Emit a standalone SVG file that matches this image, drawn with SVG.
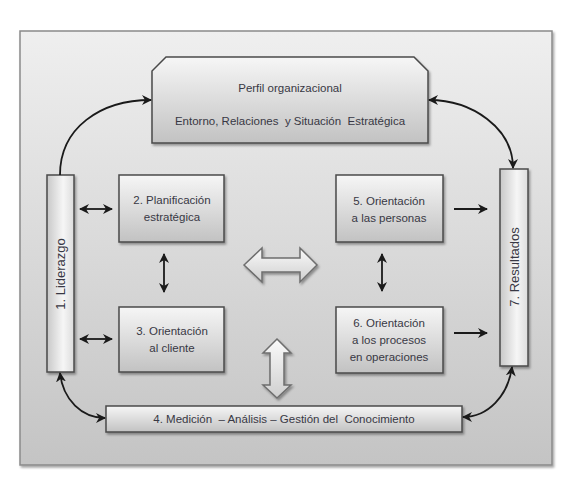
<svg xmlns="http://www.w3.org/2000/svg" width="580" height="480" viewBox="0 0 580 480">
<defs>
<linearGradient id="bg" x1="0" y1="0" x2="0" y2="1"><stop offset="0" stop-color="#efefef"/><stop offset="1" stop-color="#c4c4c4"/></linearGradient>
<linearGradient id="box" x1="0" y1="0" x2="0" y2="1"><stop offset="0" stop-color="#f6f6f6"/><stop offset="1" stop-color="#c2c2c2"/></linearGradient>
<linearGradient id="vbar" x1="0" y1="0" x2="1" y2="0"><stop offset="0" stop-color="#c8c8c8"/><stop offset="0.6" stop-color="#f6f6f6"/><stop offset="1" stop-color="#dcdcdc"/></linearGradient>
<linearGradient id="hol" x1="0" y1="0" x2="0" y2="1"><stop offset="0" stop-color="#fafafa"/><stop offset="1" stop-color="#cfcfcf"/></linearGradient>
<filter id="sh" x="-10%" y="-10%" width="130%" height="130%"><feDropShadow dx="1.5" dy="2" stdDeviation="1.2" flood-color="#000" flood-opacity="0.35"/></filter>
<marker id="ah" viewBox="0 0 10 10" refX="9" refY="5" markerWidth="10" markerHeight="10" markerUnits="userSpaceOnUse" orient="auto-start-reverse"><path d="M0,0 L10,5 L0,10 L3,5 Z" fill="#1a1a1a"/></marker>
</defs>
<style>
.bx{fill:url(#box);stroke:#4a4a4a;stroke-width:1.5;filter:url(#sh)}
.vb{fill:url(#vbar);stroke:#4a4a4a;stroke-width:1.5;filter:url(#sh)}
.t{font-family:"Liberation Sans",Arial,sans-serif;font-size:11.5px;fill:#383844;text-anchor:middle}
.c{fill:none;stroke:#1a1a1a;stroke-width:1.8}
.hol{fill:url(#hol);stroke:#6e6e6e;stroke-width:1.5;filter:url(#sh)}
</style>
<rect width="580" height="480" fill="#fff"/>
<rect id="frame" x="20" y="31" width="532" height="434" fill="url(#bg)" stroke="#8a8a8a" stroke-width="1.5" filter="url(#sh)"/>
<g id="perfil">
<path class="bx" d="M166,57 L414,57 L428,71 L428,143 L152,143 L152,71 Z"/>
<text class="t" x="290" y="92">Perfil organizacional</text>
<text class="t" x="290" y="125" xml:space="preserve">Entorno, Relaciones  y Situación  Estratégica</text>
</g>
<g id="liderazgo">
<rect class="vb" x="47" y="175" width="27" height="197"/>
<text class="t" transform="translate(65,274) rotate(-90)" style="font-size:13px">1. Liderazgo</text>
</g>
<g id="resultados">
<rect class="vb" x="500" y="169" width="28" height="197"/>
<text class="t" transform="translate(519,267) rotate(-90)" style="font-size:13px">7. Resultados</text>
</g>
<g id="planificacion">
<rect class="bx" x="119" y="175" width="105" height="67"/>
<text class="t" x="172" y="204">2. Planificación</text>
<text class="t" x="172" y="221">estratégica</text>
</g>
<g id="personas">
<rect class="bx" x="336" y="175" width="107" height="67"/>
<text class="t" x="389" y="205">5. Orientación</text>
<text class="t" x="389" y="222">a las personas</text>
</g>
<g id="cliente">
<rect class="bx" x="119" y="307" width="105" height="65"/>
<text class="t" x="172" y="335">3. Orientación</text>
<text class="t" x="172" y="352">al cliente</text>
</g>
<g id="procesos">
<rect class="bx" x="336" y="307" width="107" height="66"/>
<text class="t" x="389" y="327">6. Orientación</text>
<text class="t" x="389" y="344">a los procesos</text>
<text class="t" x="389" y="361">en operaciones</text>
</g>
<g id="medicion">
<rect class="bx" x="106" y="406" width="356" height="26"/>
<text class="t" x="284" y="423" xml:space="preserve">4. Medición  – Análisis – Gestión del  Conocimiento</text>
</g>
<g id="connectors">
<path class="c" d="M60,175 C60,128 100,100 151,100" marker-end="url(#ah)"/>
<path class="c" d="M429,100 C472,100 513,128 513,168" marker-start="url(#ah)" marker-end="url(#ah)"/>
<path class="c" d="M60,373 C63,400 82,418 105,418" marker-start="url(#ah)" marker-end="url(#ah)"/>
<path class="c" d="M512,367 C508,396 488,417 463,417" marker-start="url(#ah)" marker-end="url(#ah)"/>
<line class="c" x1="80" y1="209" x2="112" y2="209" marker-start="url(#ah)" marker-end="url(#ah)"/>
<line class="c" x1="80" y1="339" x2="112" y2="339" marker-start="url(#ah)" marker-end="url(#ah)"/>
<line class="c" x1="454" y1="209" x2="487" y2="209" marker-end="url(#ah)"/>
<line class="c" x1="454" y1="333" x2="487" y2="333" marker-end="url(#ah)"/>
<line class="c" x1="164" y1="254" x2="164" y2="292" marker-start="url(#ah)" marker-end="url(#ah)"/>
<line class="c" x1="382" y1="254" x2="382" y2="291" marker-start="url(#ah)" marker-end="url(#ah)"/>
<path class="hol" d="M244,265 L262,248 L262,258 L300,258 L300,248 L317,265 L300,282 L300,272 L262,272 L262,282 Z"/>
<path class="hol" d="M277,339 L291,353 L284,353 L284,385 L291,385 L277,398 L263,385 L270,385 L270,353 L263,353 Z"/>
</g>
</svg>
